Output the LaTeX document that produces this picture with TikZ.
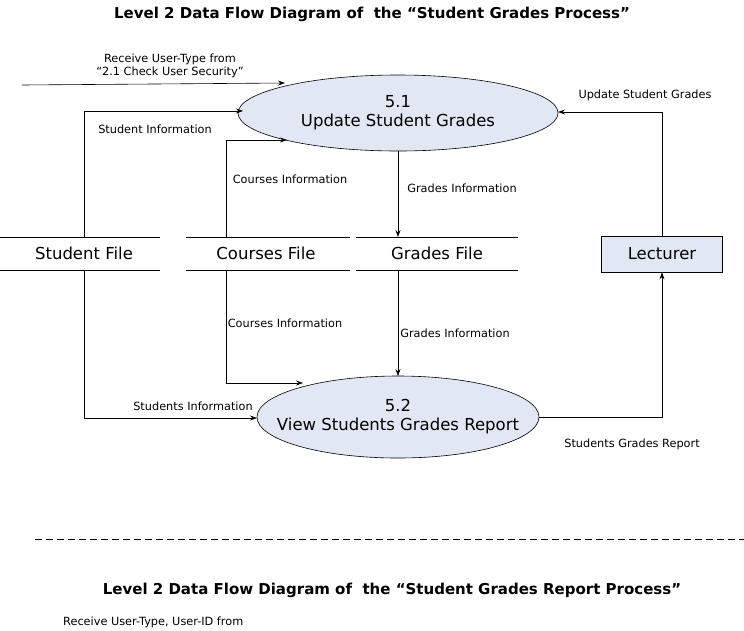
\documentclass[tikz,border=0pt]{standalone}
\usepackage{fontspec}
\setmainfont{DejaVu Sans}
\usetikzlibrary{arrows.meta}
\definecolor{pfill}{HTML}{E1E7F3}
\tikzset{x=1pt,y=-1pt,
 flow/.style={draw,-{Stealth[length=7pt,width=5pt]},line width=0.6pt},
 pshape/.style={draw,fill=pfill,line width=0.6pt},
 proc/.style={align=center,font=\fontsize{16.5}{19}\selectfont},
 lbl/.style={font=\fontsize{11.3}{13.5}\selectfont,align=center},
 store/.style={font=\fontsize{16.5}{19}\selectfont},
 ttl/.style={font=\bfseries\fontsize{15}{18}\selectfont}}
\begin{document}
\begin{tikzpicture}
\useasboundingbox (0,0) rectangle (744,630);
\node[ttl] (t1) at (372,14) {Level 2 Data Flow Diagram of\ \ the “Student Grades Process”};
\node[ttl] (t2) at (392,590) {Level 2 Data Flow Diagram of\ \ the “Student Grades Report Process”};
\node[lbl,anchor=north west,inner sep=0pt] (cut) at (63,617) {Receive User-Type, User-ID from};
\draw[dash pattern=on 7pt off 4pt,line width=0.6pt] (35,539) coordinate (d1) -- (744,539) coordinate (d2);
% processes
\draw[pshape] (398,113) ellipse [x radius=160,y radius=38];
\node[proc] (p1) at (398,113) {5.1\\Update Student Grades};
\draw[pshape] (398,417) ellipse [x radius=141,y radius=41];
\node[proc] (p2) at (398,417) {5.2\\View Students Grades Report};
% stores
\foreach \a/\b in {0/160,186/350,356/518}{\draw[line width=0.6pt] (\a,237)--(\b,237) (\a,270)--(\b,270);}
\node[store] (sf) at (84,253) {Student File};
\node[store] (cf) at (266,253) {Courses File};
\node[store] (gf) at (437,253) {Grades File};
\node[store,draw,fill=pfill,line width=0.6pt,minimum width=121pt,minimum height=36pt] (lec) at (662,254) {Lecturer};
% flows
\coordinate (in0) at (22,85);
\draw[flow] (in0) -- (285,83);
\node[lbl] (l0) at (170,66) {Receive User-Type from\\“2.1 Check User Security”};
\draw[flow] (84,237) -- (84,111) -- (243,111);
\node[lbl] (l1) at (155,129) {Student Information};
\draw[flow] (226,237) -- (226,140) -- (287,140);
\node[lbl] (l2) at (290,179) {Courses Information};
\draw[flow] (398,151) -- (398,237);
\node[lbl] (l3) at (462,188) {Grades Information};
\draw[flow] (lec.north) -- (662,112) -- (558,112);
\node[lbl] (l4) at (645,95) {Update Student Grades};
\draw[flow] (84,270) -- (84,418) -- (257,418);
\node[lbl] (l5) at (193,406) {Students Information};
\draw[flow] (226,270) -- (226,383) -- (303,383);
\node[lbl] (l6) at (285,323) {Courses Information};
\draw[flow] (398,270) -- (398,376);
\node[lbl] (l7) at (455,333) {Grades Information};
\draw[flow] (539,417) -- (662,417) -- (lec.south);
\node[lbl] (l8) at (632,444) {Students Grades Report};
\end{tikzpicture}
\end{document}
